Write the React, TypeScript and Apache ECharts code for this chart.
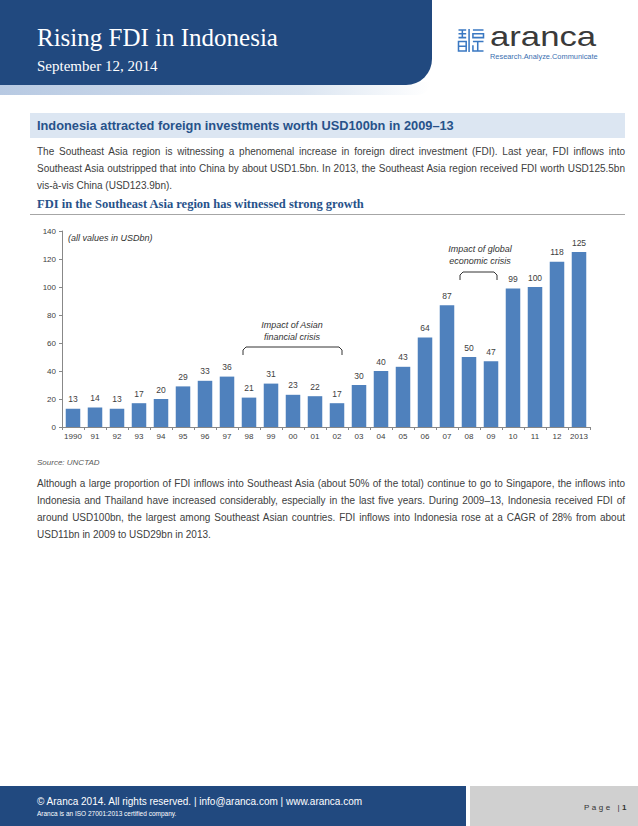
import React, { useEffect, useRef } from "react";
import * as echarts from "echarts";

const years = ["1990","91","92","93","94","95","96","97","98","99","00","01","02","03","04","05","06","07","08","09","10","11","12","2013"];
const fdiValues = [13,14,13,17,20,29,33,36,21,31,23,22,17,30,40,43,64,87,50,47,99,100,118,125];
const yTicks = { min: 0, max: 140, interval: 20 };

const para1 = [
  "The Southeast Asia region is witnessing a phenomenal increase in foreign direct investment (FDI). Last year, FDI inflows into",
  "Southeast Asia outstripped that into China by about USD1.5bn. In 2013, the Southeast Asia region received FDI worth USD125.5bn",
  "vis-à-vis China (USD123.9bn).",
];
const para2 = [
  "Although a large proportion of FDI inflows into Southeast Asia (about 50% of the total) continue to go to Singapore, the inflows into",
  "Indonesia and Thailand have increased considerably, especially in the last five years. During 2009–13, Indonesia received FDI of",
  "around USD100bn, the largest among Southeast Asian countries. FDI inflows into Indonesia rose at a CAGR of 28% from about",
  "USD11bn in 2009 to USD29bn in 2013.",
];

const BLUE = "#21497f";
const TEXT = "#404040";

function Para({ lines, top, size }: { lines: string[]; top: number; size: number }) {
  return (
    <div style={{ position: "absolute", left: 37, top, width: 588, fontFamily: "'Liberation Sans', Arial, sans-serif", fontSize: size, color: TEXT, lineHeight: "17px" }}>
      {lines.map((l, i) => (
        <div key={i} style={{ textAlign: "justify", textAlignLast: i < lines.length - 1 ? "justify" : "left", whiteSpace: "nowrap" as any }}>{l}</div>
      ))}
    </div>
  );
}

function Chart() {
  const ref = useRef<HTMLDivElement>(null);
  useEffect(() => {
    const chart = echarts.init(ref.current!, null, { renderer: "svg" });
    const font = "'Liberation Sans', Arial, sans-serif";
    const bracket = (x1: number, x2: number, y: number, h: number) => ({
      type: "polyline",
      shape: { points: [[x1, y + h], [x1, y + 3], [x1 + 3, y], [x2 - 3, y], [x2, y + 3], [x2, y + h]] },
      style: { stroke: "#333", lineWidth: 1, fill: "none" },
    });
    chart.setOption({
      animation: false,
      grid: { left: 62, right: 48, top: 9, bottom: 20 },
      xAxis: {
        type: "category",
        data: years,
        axisLine: { lineStyle: { color: "#888" } },
        axisTick: { show: true, length: 3, interval: 0, lineStyle: { color: "#888" } },
        axisLabel: { fontSize: 8, color: TEXT, fontFamily: font, margin: 5, interval: 0 },
      },
      yAxis: {
        type: "value",
        min: yTicks.min,
        max: yTicks.max,
        interval: yTicks.interval,
        splitLine: { show: false },
        axisLine: { show: true, lineStyle: { color: "#888" } },
        axisTick: { show: true, length: 3, lineStyle: { color: "#888" } },
        axisLabel: { fontSize: 8, color: TEXT, fontFamily: font, margin: 6 },
      },
      series: [
        {
          type: "bar",
          data: fdiValues,
          barWidth: "66%",
          itemStyle: { color: "#4f81bd" },
          label: { show: true, position: "top", distance: 5, fontSize: 8.5, color: TEXT, fontFamily: font },
        },
      ],
      graphic: [
        { type: "text", left: 68, top: 11, style: { text: "(all values in USDbn)", fill: "#333", font: `italic 9px ${font}` } },
        { type: "text", x: 292, y: 97, style: { text: "Impact of Asian\nfinancial crisis", align: "center", lineHeight: 12, fill: "#333", font: `italic 9px ${font}` } },
        bracket(243, 342, 125, 8),
        { type: "text", x: 480, y: 21, style: { text: "Impact of global\neconomic crisis", align: "center", lineHeight: 12, fill: "#333", font: `italic 9px ${font}` } },
        bracket(460, 497, 50, 8),
      ],
    });
    return () => chart.dispose();
  }, []);
  return <div ref={ref} style={{ position: "absolute", left: 0, top: 222, width: 638, height: 225 }} />;
}

export default function App() {
  return (
    <div style={{ position: "absolute", left: 0, top: 0, width: 638, height: 826, background: "#fff", overflow: "hidden" }}>
      {/* header */}
      <div style={{ position: "absolute", left: 0, top: 82, width: 430, height: 13, background: "linear-gradient(to right, #b7c9e2, #dbe5f1 70%, #ffffff)", borderBottomRightRadius: 30 }} />
      <div style={{ position: "absolute", left: 0, top: 0, width: 432, height: 85, background: BLUE, borderBottomRightRadius: 26 }} />
      <div style={{ position: "absolute", left: 37, top: 24, color: "#fff", fontFamily: "'Liberation Serif', 'Times New Roman', serif", fontSize: 25 }}>Rising FDI in Indonesia</div>
      <div style={{ position: "absolute", left: 37, top: 58, color: "#fff", fontFamily: "'Liberation Serif', 'Times New Roman', serif", fontSize: 15 }}>September 12, 2014</div>
      {/* logo */}
      <svg style={{ position: "absolute", left: 457, top: 28 }} width="28" height="25" viewBox="0 0 28 26">
        <g stroke="#3a78c2" strokeWidth="1.6" fill="none">
          <path d="M1 2 H9 M1 6 H9 M1 10 H9 M5 2 V10 M1 14 H9 V24 H1 Z M1 19 H9" />
          <path d="M12 1 V25 M16 2 H27 M16 6 H27 V10 H16 Z M16 14 H27 M16 18 V24 H27 M21 14 V24" />
        </g>
      </svg>
      <div style={{ position: "absolute", left: 490, top: 26, color: "#3a3a3a", fontFamily: "'Liberation Sans', Arial, sans-serif", fontSize: 28, lineHeight: "21px", height: 21, transform: "scaleX(1.24)", transformOrigin: "0 0" }}>aranca</div>
      <div style={{ position: "absolute", left: 490, top: 53, color: "#3a6fb0", fontFamily: "'Liberation Sans', Arial, sans-serif", fontSize: 7.4, lineHeight: "8px" }}>Research.Analyze.Communicate</div>

      {/* section header */}
      <div style={{ position: "absolute", left: 30, top: 113, width: 595, height: 25, background: "#dce6f2" }} />
      <div style={{ position: "absolute", left: 37, top: 117, color: "#27528a", fontFamily: "'Liberation Sans', Arial, sans-serif", fontWeight: "bold", fontSize: 12.8, lineHeight: "18px" }}>Indonesia attracted foreign investments worth USD100bn in 2009–13</div>

      <Para lines={para1} top={143} size={10} />

      <div style={{ position: "absolute", left: 37, top: 196, color: "#27528a", fontFamily: "'Liberation Serif', 'Times New Roman', serif", fontWeight: "bold", fontSize: 12.5, lineHeight: "16px" }}>FDI in the Southeast Asia region has witnessed strong growth</div>
      <div style={{ position: "absolute", left: 30, top: 214, width: 595, height: 1, background: "#a6a6a6" }} />

      <Chart />

      <div style={{ position: "absolute", left: 37, top: 458, color: "#595959", fontFamily: "'Liberation Sans', Arial, sans-serif", fontStyle: "italic", fontSize: 8 }}>Source: UNCTAD</div>

      <Para lines={para2} top={475} size={10} />

      {/* footer */}
      <div style={{ position: "absolute", left: 0, top: 786, width: 466, height: 40, background: BLUE }} />
      <div style={{ position: "absolute", left: 470, top: 786, width: 168, height: 40, background: "#d0d0d0" }} />
      <div style={{ position: "absolute", left: 37, top: 796, color: "#fff", fontFamily: "'Liberation Sans', Arial, sans-serif", fontSize: 10 }}>© Aranca 2014. All rights reserved. | info@aranca.com | www.aranca.com</div>
      <div style={{ position: "absolute", left: 37, top: 810, color: "#fff", fontFamily: "'Liberation Sans', Arial, sans-serif", fontSize: 6.5 }}>Aranca is an ISO 27001:2013 certified company.</div>
      <div style={{ position: "absolute", left: 584, top: 803, color: "#333", fontFamily: "'Liberation Sans', Arial, sans-serif", fontSize: 8, letterSpacing: 2.5 }}>Page |<b>1</b></div>
    </div>
  );
}
